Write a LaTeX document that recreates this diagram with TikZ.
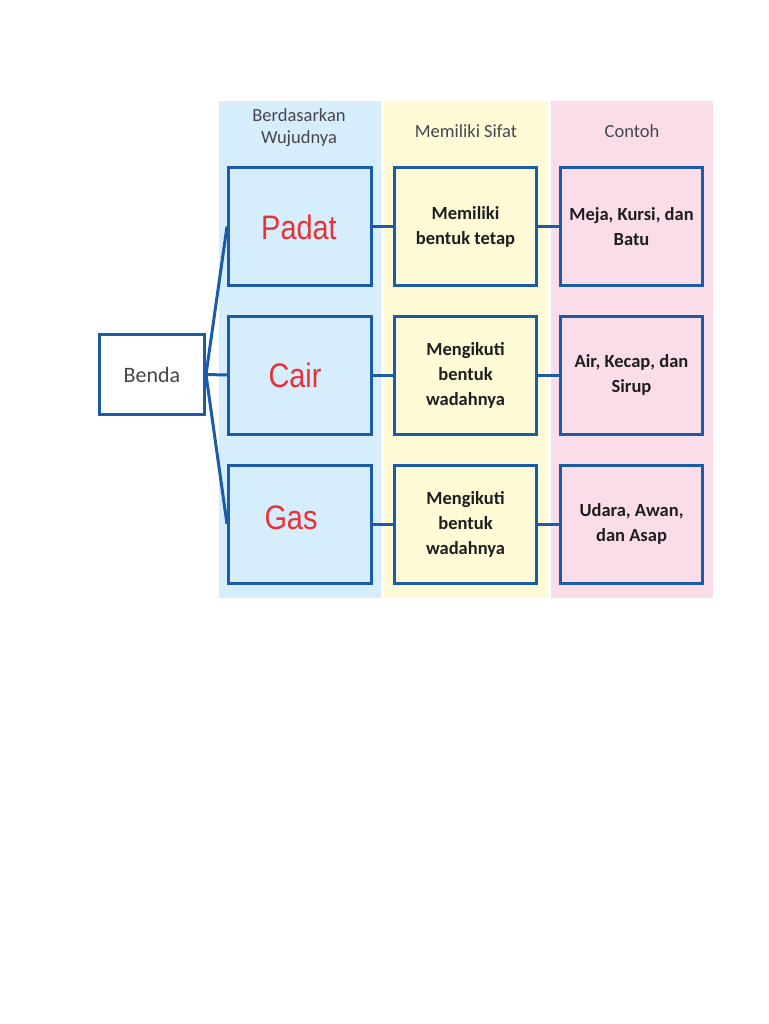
\documentclass[tikz,border=0pt]{standalone}
\usepackage{fontspec}
\setmainfont{Carlito}
\newfontfamily\redfont[FakeStretch=0.85]{Liberation Sans}
\definecolor{lineblue}{RGB}{28,92,166}
\definecolor{bgblue}{RGB}{214,238,251}
\definecolor{bgyellow}{RGB}{255,251,214}
\definecolor{bgpink}{RGB}{251,221,234}
\definecolor{headgray}{RGB}{70,70,80}
\definecolor{txtdark}{RGB}{30,30,30}
\definecolor{wordred}{RGB}{232,50,55}
\begin{document}
\begin{tikzpicture}[x=1pt,y=-1pt,
  boxa/.style={draw=lineblue,line width=3pt,fill=bgblue,minimum width=143pt,minimum height=118pt,inner sep=0pt},
  boxb/.style={draw=lineblue,line width=3pt,fill=bgyellow,minimum width=142pt,minimum height=118pt,inner sep=0pt,align=center,font=\fontsize{18.5}{25}\selectfont\bfseries,text=txtdark},
  boxc/.style={draw=lineblue,line width=3pt,fill=bgpink,minimum width=142pt,minimum height=118pt,inner sep=0pt,align=center,font=\fontsize{18.5}{25}\selectfont\bfseries,text=txtdark},
  head/.style={align=center,font=\fontsize{18.5}{22}\selectfont,text=headgray},
  big/.style={font=\redfont\fontsize{34}{36}\selectfont,text=wordred},
  conn/.style={draw=lineblue,line width=3pt}]
\useasboundingbox (0,0) rectangle (768,1024);
\fill[bgblue] (219,101) rectangle (381,598);
\fill[bgyellow] (384,101) rectangle (548,598);
\fill[bgpink] (551,101) rectangle (713,598);
\node[head] (h1) at (299,128) {Berdasarkan\\Wujudnya};
\node[head] (h2) at (466,131) {Memiliki Sifat};
\node[head] (h3) at (632,131) {Contoh};
\node[draw=lineblue,line width=3pt,fill=white,minimum width=105pt,minimum height=80pt,inner sep=0pt,font=\fontsize{22}{24}\selectfont,text=headgray] (benda) at (152,374.5) {Benda};
\node[boxa] (padat) at (300,226.5) {};
\node[boxa] (cair) at (300,375) {};
\node[boxa] (gas) at (300,524) {};
\node[big] (tpadat) at (299,227) {Padat};
\node[big] (tcair) at (295,375) {Cair};
\node[big] (tgas) at (291,518) {Gas};
\node[boxb] (s1) at (465.5,226.5) {Memiliki\\bentuk tetap};
\node[boxb] (s2) at (465.5,375) {Mengikuti\\bentuk\\wadahnya};
\node[boxb] (s3) at (465.5,524) {Mengikuti\\bentuk\\wadahnya};
\node[boxc] (c1) at (631.5,226.5) {Meja, Kursi, dan\\Batu};
\node[boxc] (c2) at (631.5,375) {Air, Kecap, dan\\Sirup};
\node[boxc] (c3) at (631.5,524) {Udara, Awan,\\dan Asap};
\draw[conn] (benda.east) -- (padat.west);
\draw[conn] (benda.east) -- (cair.west);
\draw[conn] (benda.east) -- (gas.west);
\draw[conn] (padat.east) -- (s1.west);
\draw[conn] (cair.east) -- (s2.west);
\draw[conn] (gas.east) -- (s3.west);
\draw[conn] (s1.east) -- (c1.west);
\draw[conn] (s2.east) -- (c2.west);
\draw[conn] (s3.east) -- (c3.west);
\end{tikzpicture}
\end{document}
